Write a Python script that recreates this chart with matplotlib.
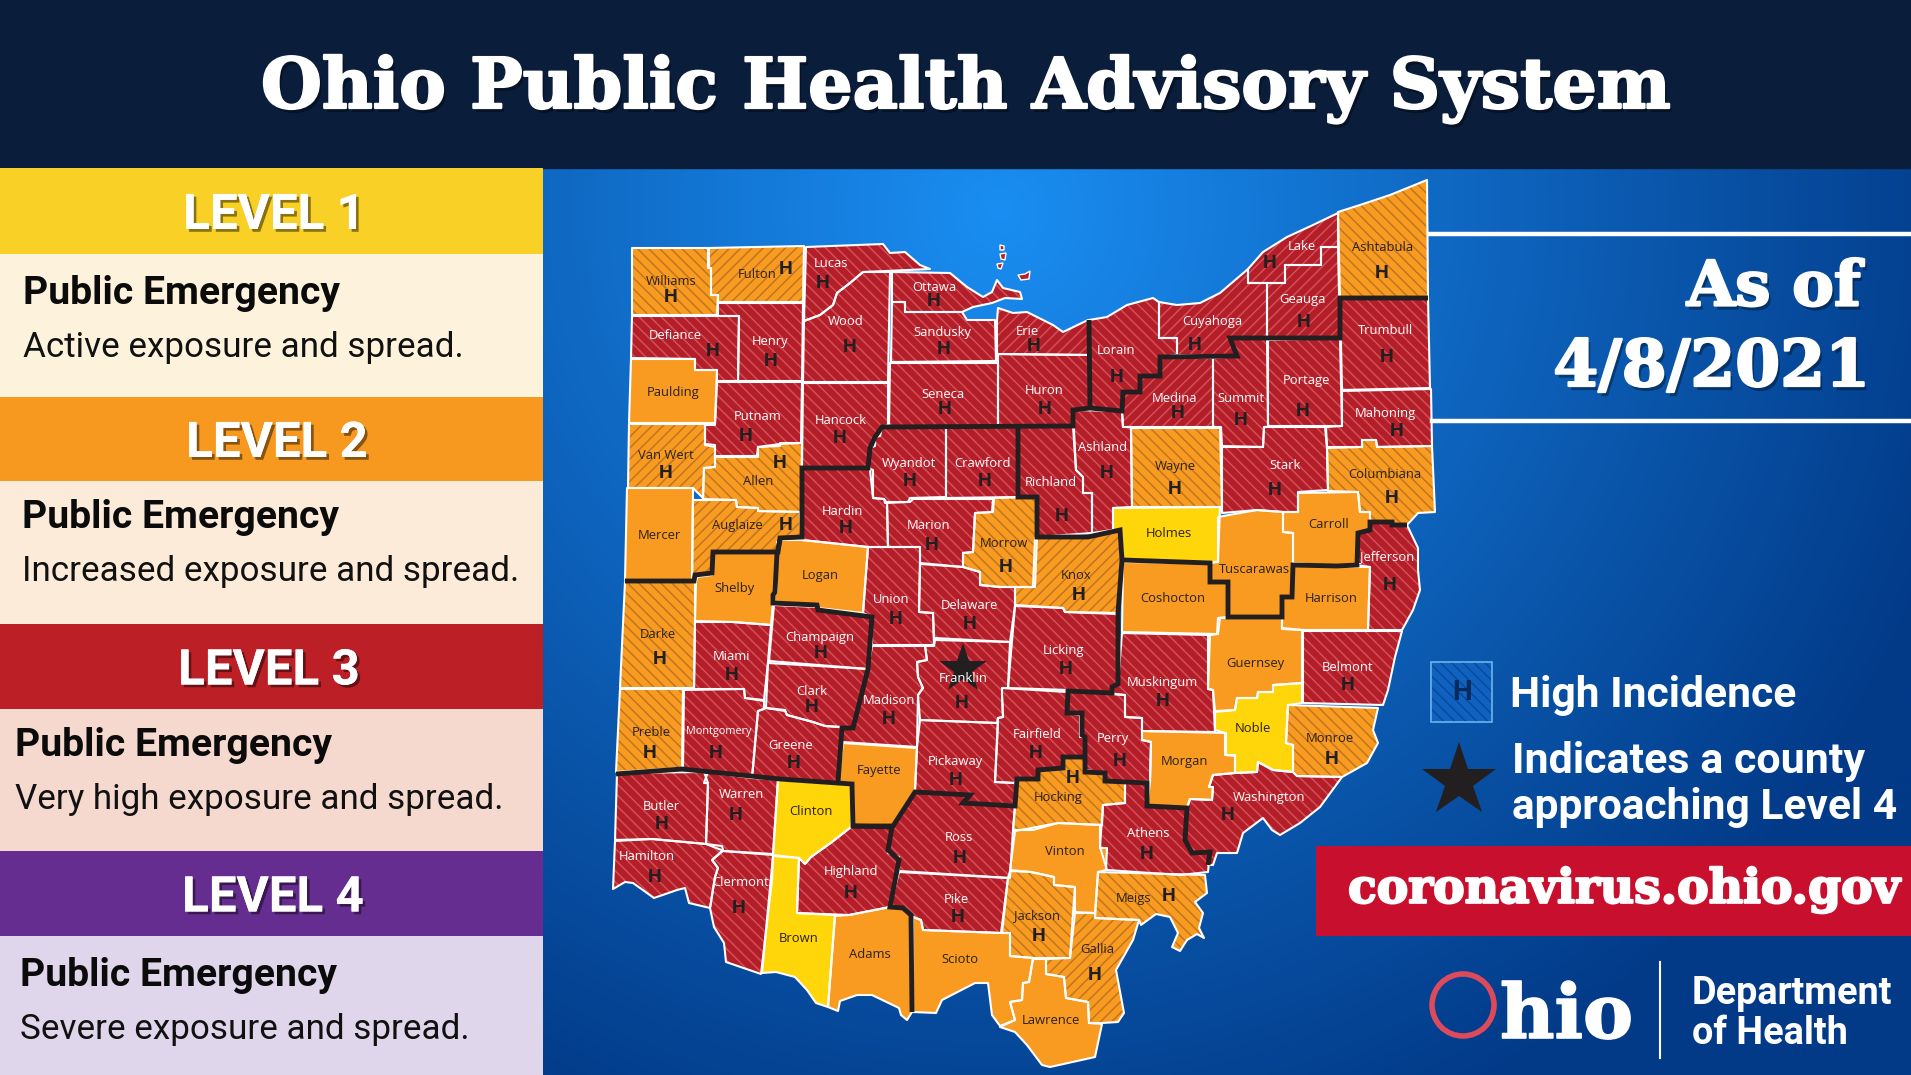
import numpy as np
import matplotlib
matplotlib.use('Agg')
import matplotlib.pyplot as plt
import matplotlib.patheffects as pe
from matplotlib.patches import Polygon, Rectangle, Ellipse

W, H = 1911, 1075
SCALE = 1911 / 1568

# county outlines, in pixels of the picture
SHAPES = {
    'Williams': [(632,248),(708,248),(708,268),(711,268),(711,295),(718,295),(717,315),(632,315)],
    'Fulton': [(709,248),(804,246),(803,302),(718,302),(718,295),(711,295),(711,268),(709,268)],
    'Lucas': [(806,247),(883,244),(890,253),(905,252),(920,265),(930,269),(863,272),(850,283),(837,293),(833,305),(820,315),(804,321)],
    'Ottawa': [(892,272),(950,273),(967,287),(983,297),(992,292),(997,280),(1003,288),(1020,292),(1022,299),(1005,298),(992,303),(973,307),(962,312),(905,312),(905,302),(892,302)],
    'Defiance': [(632,316),(739,316),(738,381),(717,381),(717,370),(695,370),(695,359),(631,358)],
    'Henry': [(718,303),(803,303),(802,381),(738,381),(739,316),(718,316)],
    'Wood': [(804,321),(820,315),(833,305),(837,293),(850,283),(863,272),(890,272),(888,382),(803,382)],
    'Sandusky': [(892,302),(905,302),(905,312),(962,312),(967,320),(995,320),(996,361),(891,362)],
    'Erie': [(997,320),(998,308),(1013,313),(1027,312),(1053,325),(1063,332),(1088,320),(1089,355),(997,354)],
    'Paulding': [(631,359),(695,359),(695,370),(717,370),(715,423),(629,423)],
    'Putnam': [(717,382),(802,382),(801,443),(780,444),(758,447),(757,456),(715,456),(715,445),(705,444),(705,425),(715,425)],
    'Hancock': [(803,383),(888,383),(888,425),(882,427),(875,437),(870,448),(868,468),(802,468)],
    'Seneca': [(890,363),(998,363),(998,427),(889,427)],
    'Huron': [(998,354),(1089,355),(1090,408),(1073,410),(1073,426),(998,426)],
    'Lorain': [(1089,320),(1107,317),(1127,305),(1153,298),(1159,302),(1159,338),(1177,338),(1177,355),(1160,357),(1160,376),(1140,376),(1140,392),(1123,392),(1122,411),(1090,408)],
    'Cuyahoga': [(1159,302),(1177,305),(1200,303),(1220,293),(1248,269),(1248,283),(1267,283),(1267,338),(1230,338),(1237,356),(1177,355),(1177,338),(1159,338)],
    'Lake': [(1248,269),(1263,252),(1287,237),(1313,225),(1338,213),(1338,247),(1321,247),(1321,265),(1285,265),(1285,283),(1248,283)],
    'Geauga': [(1267,283),(1285,283),(1285,265),(1321,265),(1321,247),(1338,247),(1340,337),(1267,338)],
    'Ashtabula': [(1338,212),(1360,205),(1390,195),(1427,180),(1428,298),(1340,298)],
    'Trumbull': [(1340,299),(1428,298),(1430,388),(1342,390)],
    'Portage': [(1268,340),(1340,338),(1342,426),(1268,426)],
    'Mahoning': [(1342,391),(1431,389),(1432,446),(1377,447),(1376,440),(1362,440),(1362,447),(1327,447),(1326,427),(1342,426)],
    'Medina': [(1160,357),(1213,358),(1213,427),(1123,427),(1122,411),(1123,392),(1140,392),(1140,376),(1160,376)],
    'Summit': [(1213,358),(1237,356),(1230,338),(1267,338),(1268,427),(1264,427),(1263,447),(1222,446),(1221,427),(1213,427)],
    'Stark': [(1222,447),(1263,447),(1264,427),(1325,427),(1327,448),(1328,490),(1298,492),(1298,512),(1283,512),(1257,510),(1222,513)],
    'Columbiana': [(1327,448),(1362,447),(1362,440),(1376,440),(1377,447),(1432,446),(1435,512),(1418,513),(1407,525),(1392,525),(1392,522),(1370,522),(1370,512),(1360,512),(1358,492),(1328,491)],
    'Wayne': [(1131,428),(1220,428),(1222,507),(1132,507)],
    'Ashland': [(1073,410),(1122,411),(1123,427),(1131,427),(1132,507),(1113,508),(1113,530),(1092,533),(1092,493),(1083,493),(1083,477),(1076,470)],
    'Richland': [(1018,427),(1073,426),(1076,470),(1083,477),(1083,493),(1092,493),(1092,533),(1037,537),(1037,497),(1018,497)],
    'Crawford': [(946,427),(1018,427),(1018,497),(946,498)],
    'Wyandot': [(882,427),(946,427),(946,497),(910,498),(908,502),(885,503),(884,499),(873,498),(870,470),(868,460),(870,448),(875,446),(875,437),(880,436)],
    'Van Wert': [(629,424),(705,424),(705,445),(715,447),(715,467),(704,468),(703,498),(693,488),(628,488)],
    'Allen': [(715,457),(758,457),(758,447),(780,446),(780,443),(802,443),(801,512),(758,511),(758,508),(737,507),(736,500),(703,499),(704,468),(715,467)],
    'Mercer': [(627,488),(693,488),(692,580),(625,580)],
    'Auglaize': [(693,500),(736,500),(737,507),(758,508),(758,511),(800,512),(801,537),(780,538),(778,552),(713,552),(712,573),(695,575),(694,581),(692,581)],
    'Hardin': [(802,468),(868,468),(873,470),(873,498),(884,499),(887,503),(888,547),(868,547),(802,540)],
    'Marion': [(887,502),(910,502),(913,499),(993,499),(992,512),(975,513),(973,552),(963,553),(963,567),(920,563),(920,547),(888,547)],
    'Morrow': [(975,513),(993,512),(994,498),(1037,497),(1037,537),(1035,587),(1000,587),(980,585),(980,572),(963,567),(963,553),(973,552)],
    'Knox': [(1035,538),(1088,537),(1120,530),(1122,560),(1118,613),(1065,612),(1063,608),(1015,605),(1015,587),(1033,587)],
    'Holmes': [(1113,508),(1220,507),(1218,562),(1123,560),(1121,530),(1113,530)],
    'Carroll': [(1298,493),(1358,492),(1360,512),(1370,512),(1370,530),(1358,533),(1357,565),(1337,566),(1293,563),(1293,533),(1283,532),(1283,512),(1298,512)],
    'Tuscarawas': [(1218,517),(1257,510),(1283,512),(1283,532),(1293,533),(1293,563),(1292,597),(1282,597),(1282,617),(1228,617),(1228,582),(1210,582),(1210,563),(1218,562)],
    'Jefferson': [(1370,522),(1392,522),(1392,525),(1407,525),(1418,548),(1418,570),(1420,590),(1413,610),(1402,630),(1368,630),(1370,567),(1357,565),(1358,533),(1370,530)],
    'Harrison': [(1293,565),(1337,567),(1370,567),(1368,630),(1303,630),(1282,628),(1282,597),(1292,597)],
    'Coshocton': [(1123,562),(1210,563),(1210,582),(1228,582),(1227,617),(1218,618),(1217,634),(1122,632)],
    'Logan': [(802,540),(868,547),(863,613),(818,608),(817,605),(775,602),(774,593),(777,592),(777,542),(780,540)],
    'Shelby': [(713,552),(777,553),(775,592),(773,595),(773,603),(771,625),(733,622),(695,621),(696,582),(697,577),(712,575)],
    'Darke': [(625,582),(695,582),(695,621),(694,688),(620,688)],
    'Miami': [(695,622),(733,622),(771,625),(768,662),(764,700),(745,698),(744,689),(694,689)],
    'Champaign': [(774,605),(817,607),(818,610),(872,617),(868,669),(769,661)],
    'Union': [(868,547),(920,547),(920,564),(919,612),(933,613),(934,645),(872,645),(872,617),(863,613)],
    'Delaware': [(920,564),(963,567),(980,572),(980,585),(1000,587),(1015,587),(1015,606),(1010,642),(934,638),(933,613),(919,612)],
    'Licking': [(1015,606),(1063,608),(1065,612),(1118,614),(1118,684),(1112,687),(1112,693),(1068,690),(1008,688)],
    'Guernsey': [(1220,618),(1282,618),(1282,629),(1302,630),(1302,683),(1273,685),(1273,692),(1258,692),(1257,698),(1237,698),(1235,710),(1215,711),(1213,690),(1208,689),(1210,635),(1218,634)],
    'Muskingum': [(1122,633),(1208,635),(1208,689),(1213,690),(1215,732),(1142,731),(1142,718),(1125,717),(1125,695),(1113,694),(1113,687),(1118,684)],
    'Belmont': [(1303,631),(1402,631),(1395,657),(1388,690),(1383,705),(1303,703)],
    'Noble': [(1215,712),(1235,710),(1237,698),(1257,698),(1258,692),(1273,692),(1273,685),(1302,683),(1302,703),(1288,705),(1286,743),(1293,745),(1293,772),(1273,770),(1258,762),(1257,772),(1235,773),(1235,755),(1225,755),(1225,733),(1215,730)],
    'Monroe': [(1288,705),(1378,708),(1373,730),(1378,743),(1367,763),(1342,777),(1297,776),(1293,772),(1293,745),(1286,743)],
    'Morgan': [(1142,731),(1226,733),(1226,755),(1235,756),(1235,773),(1213,775),(1209,787),(1213,787),(1212,800),(1190,799),(1187,808),(1147,806),(1150,782),(1151,742),(1142,740)],
    'Perry': [(1068,691),(1113,694),(1125,695),(1125,717),(1142,718),(1142,740),(1151,742),(1150,782),(1105,781),(1105,773),(1084,772),(1084,737),(1080,737),(1080,715),(1067,713)],
    'Fairfield': [(1002,688),(1067,692),(1067,713),(1082,713),(1082,735),(1085,737),(1085,757),(1063,757),(1063,768),(1038,770),(1038,779),(1017,779),(1015,783),(995,782),(998,718),(1003,717),(1002,695)],
    'Franklin': [(935,640),(1010,642),(1008,688),(1002,688),(1002,695),(1003,717),(998,718),(997,723),(920,720),(918,695),(923,688),(918,677),(917,662),(927,660),(925,646),(934,646)],
    'Madison': [(872,646),(925,646),(927,660),(917,662),(918,677),(923,688),(918,695),(917,747),(842,742),(842,728),(853,728),(868,669)],
    'Clark': [(768,663),(868,669),(853,728),(825,726),(813,722),(787,715),(785,710),(766,708)],
    'Preble': [(620,689),(683,689),(682,768),(616,772)],
    'Montgomery': [(684,690),(744,689),(745,698),(764,701),(764,709),(758,711),(752,778),(683,769)],
    'Greene': [(758,711),(766,708),(785,711),(787,715),(813,722),(825,726),(842,727),(838,782),(752,778)],
    'Fayette': [(843,743),(917,748),(915,790),(893,825),(853,826),(853,783),(838,782)],
    'Pickaway': [(920,720),(998,723),(995,782),(1015,783),(1015,805),(963,803),(970,795),(915,792),(917,747)],
    'Hocking': [(1017,779),(1038,779),(1038,770),(1063,768),(1063,757),(1084,757),(1085,770),(1105,773),(1105,781),(1125,783),(1125,803),(1103,805),(1102,825),(1058,823),(1033,830),(1013,830),(1015,806)],
    'Washington': [(1213,775),(1235,773),(1257,772),(1258,762),(1273,770),(1293,772),(1297,776),(1342,777),(1320,807),(1300,823),(1280,835),(1272,830),(1263,818),(1243,833),(1237,853),(1217,853),(1213,865),(1208,865),(1210,852),(1192,853),(1185,840),(1187,808),(1190,799),(1212,800),(1213,787),(1209,787)],
    'Athens': [(1125,783),(1147,783),(1147,806),(1187,808),(1185,840),(1192,853),(1210,852),(1208,872),(1180,875),(1107,870),(1100,847),(1103,805),(1125,803)],
    'Butler': [(617,773),(704,772),(708,783),(706,844),(652,839),(615,840)],
    'Warren': [(708,772),(778,779),(773,854),(724,851),(706,844),(708,783),(704,783)],
    'Clinton': [(778,780),(853,785),(851,827),(832,842),(811,857),(805,864),(799,858),(773,855)],
    'Ross': [(915,792),(970,795),(963,803),(1015,806),(1013,830),(1010,878),(899,871),(899,857),(888,853),(892,827)],
    'Vinton': [(1015,831),(1058,823),(1100,825),(1100,848),(1107,848),(1106,870),(1098,872),(1095,913),(1075,912),(1075,887),(1054,885),(1054,877),(1031,872),(1010,870)],
    'Hamilton': [(615,841),(652,839),(706,844),(722,846),(723,850),(712,860),(718,868),(715,877),(710,908),(689,903),(685,888),(677,890),(654,898),(633,883),(625,882),(613,889)],
    'Highland': [(799,858),(805,864),(811,857),(832,842),(851,827),(892,827),(888,850),(899,860),(890,907),(849,915),(797,913)],
    'Meigs': [(1098,872),(1205,875),(1207,893),(1195,902),(1203,913),(1199,928),(1204,938),(1197,934),(1187,940),(1180,951),(1172,947),(1178,933),(1170,917),(1156,914),(1141,925),(1139,920),(1095,918)],
    'Clermont': [(723,851),(773,855),(772,880),(761,974),(726,962),(724,943),(714,927),(710,908),(715,877),(718,868),(712,860)],
    'Pike': [(899,872),(1008,878),(1001,933),(923,930),(921,920),(913,917),(905,908),(890,907)],
    'Jackson': [(1010,871),(1031,872),(1054,877),(1054,885),(1075,887),(1073,913),(1070,958),(1033,958),(1010,956),(1010,933),(1002,933),(1008,878)],
    'Brown': [(773,856),(799,858),(797,913),(835,915),(828,1007),(816,1003),(807,990),(795,977),(776,972),(762,973)],
    'Gallia': [(1075,913),(1095,913),(1095,918),(1139,920),(1133,940),(1116,970),(1124,1013),(1118,1022),(1102,1023),(1089,1023),(1088,1002),(1066,998),(1064,977),(1046,974),(1046,959),(1070,958)],
    'Adams': [(835,916),(849,915),(890,907),(903,908),(911,915),(912,1012),(907,1020),(901,1015),(899,1008),(872,995),(857,995),(840,1001),(838,1011),(828,1007)],
    'Scioto': [(913,917),(921,920),(923,930),(1001,933),(1010,933),(1010,956),(1033,958),(1029,982),(1023,983),(1022,1000),(1010,1002),(1015,1020),(1000,1026),(992,1015),(988,983),(975,983),(942,1000),(936,1013),(913,1012)],
    'Lawrence': [(1033,959),(1046,959),(1046,974),(1064,977),(1066,998),(1088,1002),(1089,1023),(1102,1024),(1095,1057),(1050,1067),(1042,1065),(1027,1045),(1015,1032),(1000,1027),(1015,1020),(1010,1002),(1022,1000),(1023,983),(1029,982)],
}

# small lake islands
ISLANDS = [
    [(1000,245),(1004,246),(1004,250),(1000,250)],
    [(1000,254),(1006,253),(1005,260),(1001,259)],
    [(997,264),(1003,263),(1001,269),(998,268)],
    [(1018,275),(1025,274),(1030,271),(1029,279),(1021,280)],
]

# the heavy black lines between the county groups
HEAVY_LINES = [
    [(1428,298),(1340,298),(1340,338),(1230,338),(1237,356),(1160,357),(1160,376),(1140,376),(1140,392),(1123,392),(1122,411),(1090,408),(1073,410),(1073,426),(882,427),(875,437),(870,448),(868,468),(802,468),(802,537),(780,538),(778,552),(713,552),(712,573),(695,575),(694,581),(625,581)],
    [(1089,320),(1090,408)],
    [(1018,427),(1018,497),(1037,497),(1037,537),(1088,537),(1120,530),(1122,560),(1118,613),(1118,684),(1112,687),(1112,693),(1068,691),(1067,713),(1082,713),(1082,735),(1085,737),(1085,772),(1105,773),(1105,781),(1147,783),(1147,806),(1187,808),(1185,840),(1192,853),(1210,852),(1208,865)],
    [(1085,757),(1063,757),(1063,768),(1038,770),(1038,779),(1017,779),(1015,806),(963,803),(970,795),(915,792),(893,826),(853,826),(852,784),(780,779),(682,769),(616,774)],
    [(853,826),(892,827),(888,850),(899,860),(890,907),(903,908),(911,915),(912,1012)],
    [(780,540),(777,553),(775,592),(773,595),(773,603),(817,605),(818,610),(872,617),(868,669),(853,728),(842,728),(838,782)],
    [(1123,560),(1210,563),(1210,582),(1228,582),(1228,617),(1282,617),(1282,597),(1292,597),(1293,565),(1337,566),(1357,565),(1358,533),(1370,530),(1370,522),(1392,522),(1392,525),(1407,525)],
]

YELLOW = ['Holmes', 'Noble', 'Clinton', 'Brown']
ORANGE = ['Williams', 'Fulton', 'Paulding', 'Ashtabula', 'Columbiana', 'Wayne', 'Van Wert', 'Allen',
          'Mercer', 'Auglaize', 'Morrow', 'Knox', 'Carroll', 'Tuscarawas', 'Harrison', 'Coshocton',
          'Logan', 'Shelby', 'Darke', 'Guernsey', 'Monroe', 'Morgan', 'Preble', 'Fayette', 'Hocking',
          'Vinton', 'Meigs', 'Jackson', 'Gallia', 'Adams', 'Scioto', 'Lawrence']
SLASH_HATCH = ['Fulton', 'Van Wert', 'Auglaize', 'Knox', 'Gallia', 'Erie', 'Cuyahoga', 'Lake', 'Geauga', 'Medina']

# name position
NAME_XY = {
    'Williams': (551,231), 'Fulton': (621,225), 'Lucas': (682,216), 'Ottawa': (767,236), 'Defiance': (554,275),
    'Henry': (632,280), 'Wood': (694,264), 'Sandusky': (773,273), 'Erie': (843,272), 'Paulding': (552,322),
    'Putnam': (622,342), 'Hancock': (690,345), 'Seneca': (774,324), 'Huron': (857,320), 'Lorain': (916,288),
    'Cuyahoga': (995,264), 'Lake': (1068,202), 'Geauga': (1069,246), 'Ashtabula': (1134,203), 'Trumbull': (1137,271),
    'Portage': (1072,312), 'Mahoning': (1137,339), 'Medina': (964,327), 'Summit': (1018,327), 'Stark': (1054,382),
    'Columbiana': (1136,389), 'Wayne': (964,383), 'Ashland': (905,367), 'Richland': (862,396), 'Crawford': (806,380),
    'Wyandot': (746,380), 'Van Wert': (546,374), 'Allen': (622,395), 'Mercer': (541,439), 'Auglaize': (605,431),
    'Hardin': (691,420), 'Marion': (762,431), 'Morrow': (824,446), 'Knox': (883,472), 'Holmes': (959,438),
    'Carroll': (1090,430), 'Tuscarawas': (1029,467), 'Jefferson': (1138,457), 'Harrison': (1092,491), 'Coshocton': (962,491),
    'Logan': (673,472), 'Shelby': (603,483), 'Darke': (540,521), 'Miami': (600,539), 'Champaign': (673,523),
    'Union': (731,492), 'Delaware': (795,497), 'Licking': (873,534), 'Guernsey': (1030,544), 'Muskingum': (954,560),
    'Belmont': (1106,548), 'Noble': (1028,598), 'Monroe': (1091,606), 'Morgan': (972,625), 'Perry': (913,606),
    'Fairfield': (851,603), 'Franklin': (790,557), 'Madison': (729,575), 'Clark': (666,567), 'Preble': (534,601),
    'Montgomery': (590,600), 'Greene': (649,612), 'Fayette': (721,632), 'Pickaway': (784,625), 'Hocking': (868,654),
    'Washington': (1041,654), 'Athens': (942,684), 'Butler': (543,662), 'Warren': (608,652), 'Clinton': (665,666),
    'Ross': (787,687), 'Vinton': (874,699), 'Hamilton': (531,703), 'Highland': (698,715), 'Meigs': (930,737),
    'Clermont': (608,724), 'Pike': (785,738), 'Jackson': (851,751), 'Brown': (655,770), 'Gallia': (900,779),
    'Adams': (714,783), 'Scioto': (788,787), 'Lawrence': (862,837),
}

# high incidence counties and where their H sits
H_XY = {
    'Williams': (550,244), 'Fulton': (645,221), 'Lucas': (675,232), 'Ottawa': (766,247), 'Defiance': (585,288),
    'Henry': (632,296), 'Wood': (697,285), 'Sandusky': (774,286), 'Erie': (848,284), 'Putnam': (612,358),
    'Hancock': (689,359), 'Seneca': (775,336), 'Huron': (857,336), 'Lorain': (916,309), 'Cuyahoga': (980,283),
    'Lake': (1042,216), 'Geauga': (1070,264), 'Ashtabula': (1134,224), 'Trumbull': (1138,293), 'Portage': (1069,337),
    'Mahoning': (1146,354), 'Medina': (966,339), 'Summit': (1018,345), 'Stark': (1046,402), 'Columbiana': (1142,409),
    'Wayne': (964,401), 'Ashland': (908,388), 'Richland': (871,423), 'Crawford': (808,395), 'Wyandot': (746,395),
    'Van Wert': (546,388), 'Allen': (640,380), 'Auglaize': (645,431), 'Hardin': (694,433), 'Marion': (764,447),
    'Morrow': (825,465), 'Knox': (885,488), 'Jefferson': (1140,480), 'Darke': (541,541), 'Miami': (600,554),
    'Champaign': (673,536), 'Union': (735,508), 'Delaware': (796,512), 'Licking': (874,549), 'Muskingum': (954,575),
    'Belmont': (1106,562), 'Monroe': (1093,623), 'Perry': (919,624), 'Fairfield': (850,618), 'Franklin': (789,577),
    'Madison': (729,590), 'Clark': (666,580), 'Preble': (533,618), 'Montgomery': (587,618), 'Greene': (651,626),
    'Pickaway': (784,640), 'Hocking': (880,638), 'Washington': (1007,669), 'Athens': (941,701), 'Butler': (543,676),
    'Warren': (604,669), 'Ross': (787,704), 'Hamilton': (537,720), 'Highland': (698,733), 'Meigs': (959,735),
    'Clermont': (606,745), 'Pike': (786,752), 'Jackson': (852,768), 'Gallia': (898,800),
}

LEVEL_TITLES = ['LEVEL 1', 'LEVEL 2', 'LEVEL 3', 'LEVEL 4']
LEVEL_TEXTS = ['Active exposure and spread.', 'Increased exposure and spread.',
               'Very high exposure and spread.', 'Severe exposure and spread.']
LEVEL_COLORS = ['#F9D025', '#F7981F', '#BC2026', '#662D91']
BODY_COLORS = ['#FDF3DC', '#FCEBD9', '#F5D9CF', '#DFD6EB']
BAND_TOPS = [168, 397, 624, 851]
BODY_TOPS = [254, 481, 709, 936]
BODY_ENDS = [397, 624, 851, 1075]
TITLE_X = [274, 277, 269, 273]
TEXT_X = [23, 22, 15, 20]
HEAD_Y = [293, 517, 746, 976]
TEXT_Y = [347, 571, 800, 1029]

plt.rcParams['hatch.linewidth'] = 1.1

fig = plt.figure(figsize=(W / 100, H / 100), dpi=100)
ax = fig.add_axes([0, 0, 1, 1])
ax.set_xlim(0, W)
ax.set_ylim(H, 0)
ax.axis('off')

# blue background, lighter behind the lake
yy, xx = np.mgrid[0:H:2, 0:W:2]
dist = np.clip(np.hypot(xx - 1000, yy - 210) / 1000, 0, 1)[..., None]
light = np.array([26, 142, 242]) / 255
dark = np.array([2, 58, 136]) / 255
ax.imshow(light * (1 - dist) + dark * dist, extent=(0, W, H, 0), aspect='auto', zorder=0)

ax.add_patch(Rectangle((0, 0), W, 168, color='#0A1E3C', zorder=1))
shadow = [pe.withSimplePatchShadow(offset=(2, -2), shadow_rgbFace='black', alpha=0.45), pe.Normal()]
heavy = [pe.withSimplePatchShadow(offset=(2, -3), shadow_rgbFace='black', alpha=0.35),
         pe.withStroke(linewidth=1.6, foreground='white')]
ax.text(966, 89, 'Ohio Public Health Advisory System', color='white', fontsize=50.3, family='DejaVu Serif',
        weight='bold', ha='center', va='center', path_effects=heavy, zorder=5)

# left panel
for i in range(4):
    ax.add_patch(Rectangle((0, BAND_TOPS[i]), 543, BODY_TOPS[i] - BAND_TOPS[i], color=LEVEL_COLORS[i], lw=0, zorder=1))
    ax.add_patch(Rectangle((0, BODY_TOPS[i]), 543, BODY_ENDS[i] - BODY_TOPS[i], color=BODY_COLORS[i], lw=0, zorder=1))
    ax.text(TITLE_X[i], (BAND_TOPS[i] + BODY_TOPS[i]) / 2 + 5, LEVEL_TITLES[i], color='white', fontsize=35.5,
            family='Roboto', weight='bold', ha='center', va='center', path_effects=shadow, zorder=5)
    ax.text(TEXT_X[i], HEAD_Y[i], 'Public Emergency', color='#0b0b0b', fontsize=28.2, family='Roboto',
            weight='bold', va='center', zorder=5)
    ax.text(TEXT_X[i], TEXT_Y[i], LEVEL_TEXTS[i], color='#111111', fontsize=25.2, family='Roboto',
            va='center', zorder=5)

# counties
for name, xy in SHAPES.items():
    if name in YELLOW:
        fill, stripe = '#FFD60A', '#FFD60A'
    elif name in ORANGE:
        fill, stripe = '#F89B20', '#BE7620'
    else:
        fill, stripe = '#B31E29', '#D24F58'
    hatch = None
    if name in H_XY:
        hatch = '///' if name in SLASH_HATCH else '\\\\\\'
    ax.add_patch(Polygon(xy, closed=True, facecolor=fill, edgecolor=stripe, hatch=hatch, lw=0, zorder=2))
    ax.add_patch(Polygon(xy, closed=True, fill=False, edgecolor='white', lw=1.5, joinstyle='round', zorder=3))

for xy in ISLANDS:
    ax.add_patch(Polygon(xy, closed=True, facecolor='#B5202B', edgecolor='white', lw=1.0, zorder=3))

for line in HEAVY_LINES:
    xs = [p[0] for p in line]
    ys = [p[1] for p in line]
    ax.plot(xs, ys, color='#231F20', lw=3.5, solid_joinstyle='miter', solid_capstyle='butt', zorder=4)

# star sits under the Franklin label
ax.plot(790 * SCALE, 549 * SCALE, marker='*', color='#231F20', ms=37, mew=0, zorder=4.5)

for name, (x, y) in NAME_XY.items():
    col = 'white' if name not in YELLOW and name not in ORANGE else '#2A2118'
    size = 7.8 if name == 'Montgomery' else 9.4
    ax.text(x * SCALE, y * SCALE, name, color=col, fontsize=size, family='Open Sans', ha='center', va='center', zorder=5)

for name, (x, y) in H_XY.items():
    ax.text(x * SCALE, y * SCALE, 'H', color='#231F20', fontsize=14, family='Roboto', weight='bold',
            ha='center', va='center', zorder=5)

# date box
ax.plot([1430, W], [234, 234], color='white', lw=3.2, zorder=3)
ax.plot([1432, W], [421, 421], color='white', lw=3.2, zorder=3)
ax.text(1861, 288, 'As of', color='white', fontsize=45, family='DejaVu Serif', weight='bold', ha='right', va='center',
        path_effects=heavy, zorder=5)
ax.text(1870, 368, '4/8/2021', color='white', fontsize=46.5, family='DejaVu Serif', weight='bold', ha='right', va='center',
        path_effects=heavy, zorder=5)

# legend
ax.add_patch(Rectangle((1431, 662), 61, 60, facecolor='#0F62C0', edgecolor='#0A4A9A', hatch='\\\\\\', lw=0, zorder=3))
ax.add_patch(Rectangle((1431, 662), 61, 60, fill=False, edgecolor='#6CB4EE', lw=1.2, zorder=3))
ax.text(1462, 693, 'H', color='#0B2A5C', fontsize=20, family='Roboto', weight='bold', ha='center', va='center', zorder=5)
ax.text(1510, 696, 'High Incidence', color='white', fontsize=30.7, family='Roboto', weight='bold', va='center', zorder=5)
ax.plot(1459, 781, marker='*', color='#231F20', ms=56, mew=0, zorder=5)
ax.text(1512, 761, 'Indicates a county', color='white', fontsize=31, family='Roboto', weight='bold', va='center', zorder=5)
ax.text(1512, 807, 'approaching Level 4', color='white', fontsize=30.6, family='Roboto', weight='bold', va='center', zorder=5)

# web address
ax.add_patch(Rectangle((1316, 846), W - 1316, 90, color='#C8102E', lw=0, zorder=3))
ax.text(1348, 890, 'coronavirus.ohio.gov', color='white', fontsize=34, family='DejaVu Serif', weight='bold', va='center',
        path_effects=[pe.withStroke(linewidth=1.6, foreground='white')], zorder=5)

# logo
ax.add_patch(Ellipse((1463, 1005), 62, 62, fill=False, edgecolor='#DC4A5C', lw=4, zorder=5))
ax.text(1500, 1038, 'hio', color='white', fontsize=54, family='DejaVu Serif', weight='bold', va='baseline',
        path_effects=[pe.withStroke(linewidth=1.2, foreground='white')], zorder=5)
ax.plot([1660, 1660], [962, 1058], color='white', lw=1.5, zorder=5)
ax.text(1692, 993, 'Department', color='white', fontsize=27.3, family='Roboto', weight='bold', va='center', zorder=5)
ax.text(1692, 1034, 'of Health', color='white', fontsize=27.3, family='Roboto', weight='bold', va='center', zorder=5)

fig.savefig('out.png', dpi=100)
